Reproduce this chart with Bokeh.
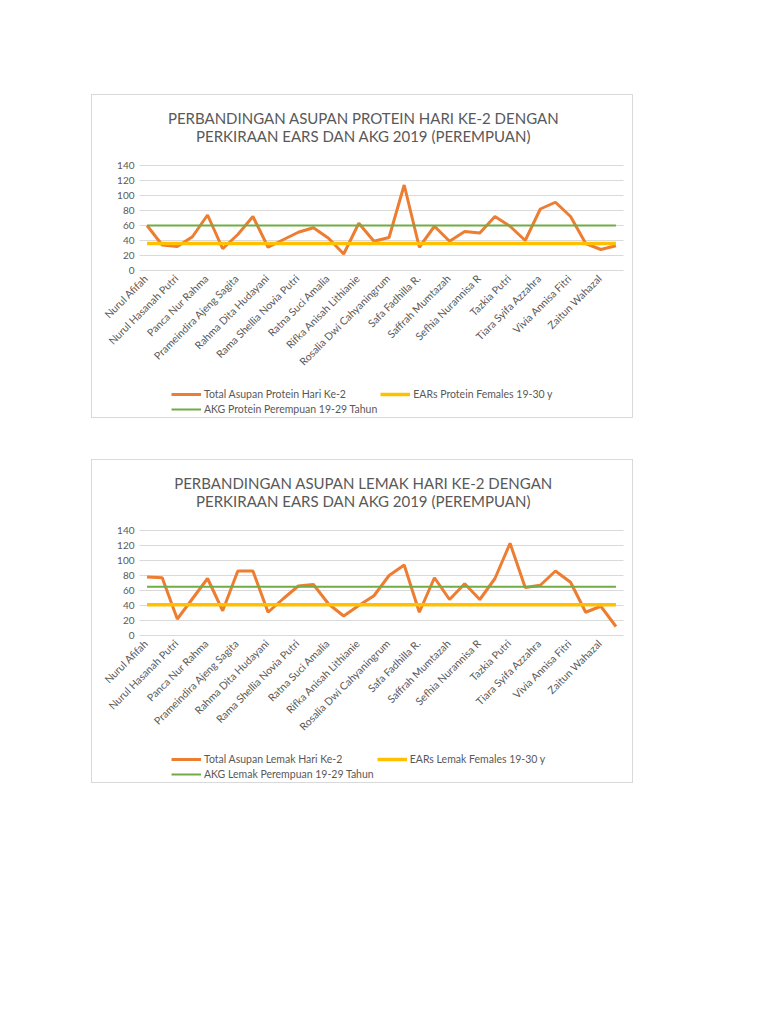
from math import pi
from bokeh.plotting import figure
from bokeh.models import Legend, LegendItem, Spacer, Title
from bokeh.core.properties import value
from bokeh.layouts import row, column
from bokeh.embed import file_html
from bokeh.resources import INLINE

# ---------------- data ----------------
x_idx = list(range(32))
tick_names = ["Nurul Afifah", "Nurul Hasanah Putri", "Panca Nur Rahma",
              "Prameindira Ajeng Sagita", "Rahma Dita Hudayani",
              "Rama Shellia Novia Putri", "Ratna Suci Amalia",
              "Rifka Anisah Lithianie", "Rosalia Dwi Cahyaningrum",
              "Safa Fadhilla R.", "Saffrah Mumtazah", "Sefhia Nurannisa R",
              "Tazkia Putri", "Tiara Syifa Azzahra", "Vivia Annisa Fitri",
              "Zaitun Wahazal"]
tick_pos = [0, 2, 4, 6, 8, 10, 12, 14, 16, 18, 20, 22, 24, 26, 28, 30]

protein_total = [60, 34, 32, 45, 74, 29, 48, 72, 31, 41, 51, 57, 43, 22, 63, 39,
                 44, 114, 31, 59, 39, 52, 50, 72, 59, 40, 82, 91, 72, 36, 28, 33]
protein_ear = 36
protein_akg = 60

lemak_total = [78, 77, 22, 49, 76, 33, 86, 86, 31, 49, 66, 68, 42, 26, 40, 53,
               80, 94, 31, 77, 48, 69, 48, 76, 123, 64, 67, 86, 71, 31, 39, 12]
lemak_ear = 41
lemak_akg = 65

y_ticks = [0, 20, 40, 60, 80, 100, 120, 140]
y_tick_labels = [str(t) for t in y_ticks]
x_first, x_last = -0.5, 31.5          # category axis extent

TXT = "#595959"
FONT = "Lato"


def make_chart(title1, title2, total, ear, akg, lbl_total, lbl_ear, lbl_akg):
    # the frame fills the box below the title, so the category labels,
    # value labels and the legend can be drawn inside it
    p = figure(width=542, height=324, output_backend="svg", toolbar_location=None,
               title=title1,
               x_range=(-3.475, 32.095), y_range=(-196, 160),
               min_border_left=2, min_border_right=2,
               min_border_top=55, min_border_bottom=2,
               styles={"border": "1px solid #D9D9D9"})
    p.outline_line_color = None
    p.background_fill_color = "white"
    p.border_fill_color = "white"
    p.xaxis.visible = False
    p.yaxis.visible = False
    p.grid.visible = False

    p.title.align = "center"
    p.title.text_font = FONT
    p.title.text_font_size = "15px"
    p.title.text_font_style = "normal"
    p.title.text_color = TXT
    p.title.standoff = -17
    p.add_layout(Title(text=title2, align="center", text_font=FONT,
                       text_font_size="15px", text_font_style="normal",
                       text_color=TXT, standoff=12), "above")

    # horizontal gridlines and value labels
    p.segment(x0=[x_first] * len(y_ticks), x1=[x_last] * len(y_ticks),
              y0=y_ticks, y1=y_ticks, line_color="#D9D9D9", line_width=1)
    p.text(x=[x_first] * len(y_ticks), y=y_ticks, text=y_tick_labels,
           text_align="right", text_baseline="middle", x_offset=-5,
           text_font=value(FONT), text_font_size="10px", text_color=TXT)

    # category labels, rotated 45 degrees, hanging from the zero line
    p.text(x=tick_pos, y=[0] * len(tick_pos), text=tick_names, angle=pi / 4,
           text_align="right", text_baseline="middle", x_offset=-1, y_offset=6,
           text_font=value(FONT), text_font_size="10.5px", text_color=TXT)

    r_total = p.line(x_idx, total, line_color="#ED7D31", line_width=3)
    r_ear = p.line(x_idx, [ear] * len(x_idx), line_color="#FFC000", line_width=3.5)
    r_akg = p.line(x_idx, [akg] * len(x_idx), line_color="#70AD47", line_width=2)

    legend = Legend(items=[LegendItem(label=lbl_total, renderers=[r_total]),
                           LegendItem(label=lbl_ear, renderers=[r_ear]),
                           LegendItem(label=lbl_akg, renderers=[r_akg])],
                    location=(77, 2), orientation="horizontal", ncols=2,
                    glyph_width=30, glyph_height=10, label_standoff=3,
                    spacing=3, padding=0, margin=0,
                    label_text_font=FONT, label_text_font_size="10.5px",
                    label_text_color=TXT, label_height=12,
                    background_fill_alpha=0, border_line_color=None)
    p.add_layout(legend, "center")
    return p


p1 = make_chart("PERBANDINGAN ASUPAN PROTEIN HARI KE-2 DENGAN",
                "PERKIRAAN EARS DAN AKG 2019 (PEREMPUAN)",
                protein_total, protein_ear, protein_akg,
                "Total Asupan Protein Hari Ke-2", "EARs Protein Females 19-30 y",
                "AKG Protein Perempuan 19-29 Tahun")
p2 = make_chart("PERBANDINGAN ASUPAN LEMAK HARI KE-2 DENGAN",
                "PERKIRAAN EARS DAN AKG 2019 (PEREMPUAN)",
                lemak_total, lemak_ear, lemak_akg,
                "Total Asupan Lemak Hari Ke-2", "EARs Lemak Females 19-30 y",
                "AKG Lemak Perempuan 19-29 Tahun")

page = row(Spacer(width=91),
           column(Spacer(height=94), p1, Spacer(height=41), p2))

open("out.html", "w").write(file_html(page, INLINE))
